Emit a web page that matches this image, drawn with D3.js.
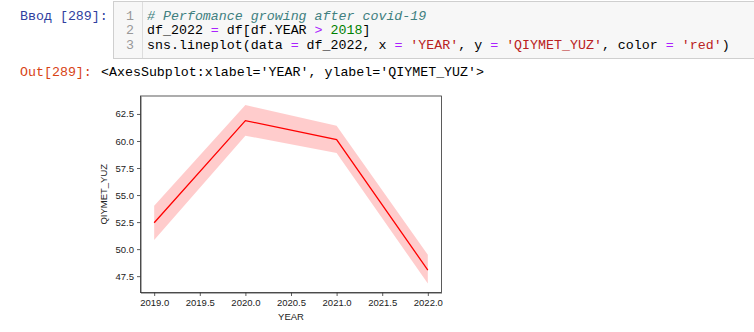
<!DOCTYPE html>
<html>
<head>
<meta charset="utf-8">
<script src="https://cdn.jsdelivr.net/npm/d3@7"></script>
<style>
  body { margin: 0; background: #fff; }
  text { white-space: pre; }
  .mono { font-family: "Liberation Mono", "Courier New", monospace; font-size: 13.3px; }
  .axis text { font-family: "Liberation Sans", Arial, sans-serif; font-size: 9.5px; fill: #222; }
  .axis path, .axis line { stroke: #333; stroke-width: 0.8; }
  .lbl { font-family: "Liberation Sans", Arial, sans-serif; font-size: 9.5px; fill: #222; }
</style>
</head>
<body>
<div id="chart"></div>
<script>
/* DATA */
const years = [2019, 2020, 2021, 2022];
const meanVals = [52.44, 61.88, 60.12, 48.06];
const ciLow = [50.84, 60.49, 58.88, 46.82];
const ciHigh = [54.02, 63.33, 61.41, 49.48];
const xTicks = [2019, 2019.5, 2020, 2020.5, 2021, 2021.5, 2022];
const yTicks = [47.5, 50, 52.5, 55, 57.5, 60, 62.5];

// code cell lines, each a list of [text, color, italic]
const codeLines = [
  [["# Perfomance growing after covid-19", "#408080", true]],
  [["df_2022 ", "#000"], ["=", "#AA22FF"], [" df[df.YEAR ", "#000"], [">", "#AA22FF"], [" ", "#000"], ["2018", "#008000"], ["]", "#000"]],
  [["sns.lineplot(data ", "#000"], ["=", "#AA22FF"], [" df_2022, x ", "#000"], ["=", "#AA22FF"], [" ", "#000"],
   ["'YEAR'", "#BA2121"], [", y ", "#000"], ["=", "#AA22FF"], [" ", "#000"], ["'QIYMET_YUZ'", "#BA2121"],
   [", color ", "#000"], ["=", "#AA22FF"], [" ", "#000"], ["'red'", "#BA2121"], [")", "#000"]]
];

const W = 754, H = 332;
const margin = { top: 96, bottom: 332 - 292.5, left: 140.5, right: 754 - 441.5 };

const svg = d3.select("#chart").append("svg")
  .attr("width", W).attr("height", H);

/* NOTEBOOK CELL */
svg.append("rect")
  .attr("x", 113.5).attr("y", 1.5).attr("width", 660).attr("height", 57)
  .attr("fill", "#f7f7f7").attr("stroke", "#cfcfcf");
svg.append("line")
  .attr("x1", 142.5).attr("x2", 142.5).attr("y1", 2).attr("y2", 58)
  .attr("stroke", "#ddd");

svg.append("text").attr("class", "mono")
  .attr("x", 20).attr("y", 15).attr("dy", "0.35em")
  .attr("fill", "#303F9F").text("Ввод [289]:");

codeLines.forEach((parts, i) => {
  const y = 15 + i * 14.6;
  svg.append("text").attr("class", "mono")
    .attr("x", 134).attr("y", y).attr("dy", "0.35em")
    .attr("text-anchor", "end").attr("fill", "#999").text(i + 1);
  const t = svg.append("text").attr("class", "mono")
    .attr("x", 147).attr("y", y).attr("dy", "0.35em");
  parts.forEach(p => {
    t.append("tspan").attr("fill", p[1])
      .attr("font-style", p[2] ? "italic" : null).text(p[0]);
  });
});

svg.append("text").attr("class", "mono")
  .attr("x", 20).attr("y", 71).attr("dy", "0.35em")
  .attr("fill", "#D84315").text("Out[289]:");
svg.append("text").attr("class", "mono")
  .attr("x", 101).attr("y", 71).attr("dy", "0.35em")
  .attr("fill", "#000").text("<AxesSubplot:xlabel='YEAR', ylabel='QIYMET_YUZ'>");

/* SCALES */
const xScale = d3.scaleLinear()
  .domain([2018.85, 2022.15])
  .range([margin.left, W - margin.right]);
const yScale = d3.scaleLinear()
  .domain([45.99, 64.16])
  .range([H - margin.bottom, margin.top]);

const rows = years.map((y, i) => ({ year: y, mean: meanVals[i], lo: ciLow[i], hi: ciHigh[i] }));

/* BAND + LINE */
const areaFunc = d3.area()
  .x(d => xScale(d.year))
  .y0(d => yScale(d.lo))
  .y1(d => yScale(d.hi));
const lineFunc = d3.line()
  .x(d => xScale(d.year))
  .y(d => yScale(d.mean));

svg.append("path").datum(rows)
  .attr("d", areaFunc)
  .attr("fill", "red").attr("fill-opacity", 0.2);
svg.append("path").datum(rows)
  .attr("d", lineFunc)
  .attr("fill", "none").attr("stroke", "red").attr("stroke-width", 1.3);

/* AXES */
svg.append("g").attr("class", "axis")
  .attr("transform", `translate(0,${H - margin.bottom})`)
  .call(d3.axisBottom(xScale).tickValues(xTicks).tickFormat(d3.format(".1f")).tickSize(3.5).tickSizeOuter(0).tickPadding(3));
svg.append("g").attr("class", "axis")
  .attr("transform", `translate(${margin.left},0)`)
  .call(d3.axisLeft(yScale).tickValues(yTicks).tickFormat(d3.format(".1f")).tickSize(3.5).tickSizeOuter(0).tickPadding(3));

// frame (top + right spines)
svg.append("rect")
  .attr("x", margin.left).attr("y", margin.top)
  .attr("width", W - margin.right - margin.left)
  .attr("height", H - margin.bottom - margin.top)
  .attr("fill", "none").attr("stroke", "#333").attr("stroke-width", 0.8);

// axis labels
svg.append("text").attr("class", "lbl")
  .attr("x", (margin.left + W - margin.right) / 2).attr("y", 317).attr("dy", "0.35em")
  .attr("text-anchor", "middle")
  .text("YEAR");
svg.append("text").attr("class", "lbl")
  .attr("transform", `translate(104,${(margin.top + H - margin.bottom) / 2}) rotate(-90)`)
  .attr("dy", "0.35em")
  .attr("text-anchor", "middle")
  .text("QIYMET_YUZ");
</script>
</body>
</html>
